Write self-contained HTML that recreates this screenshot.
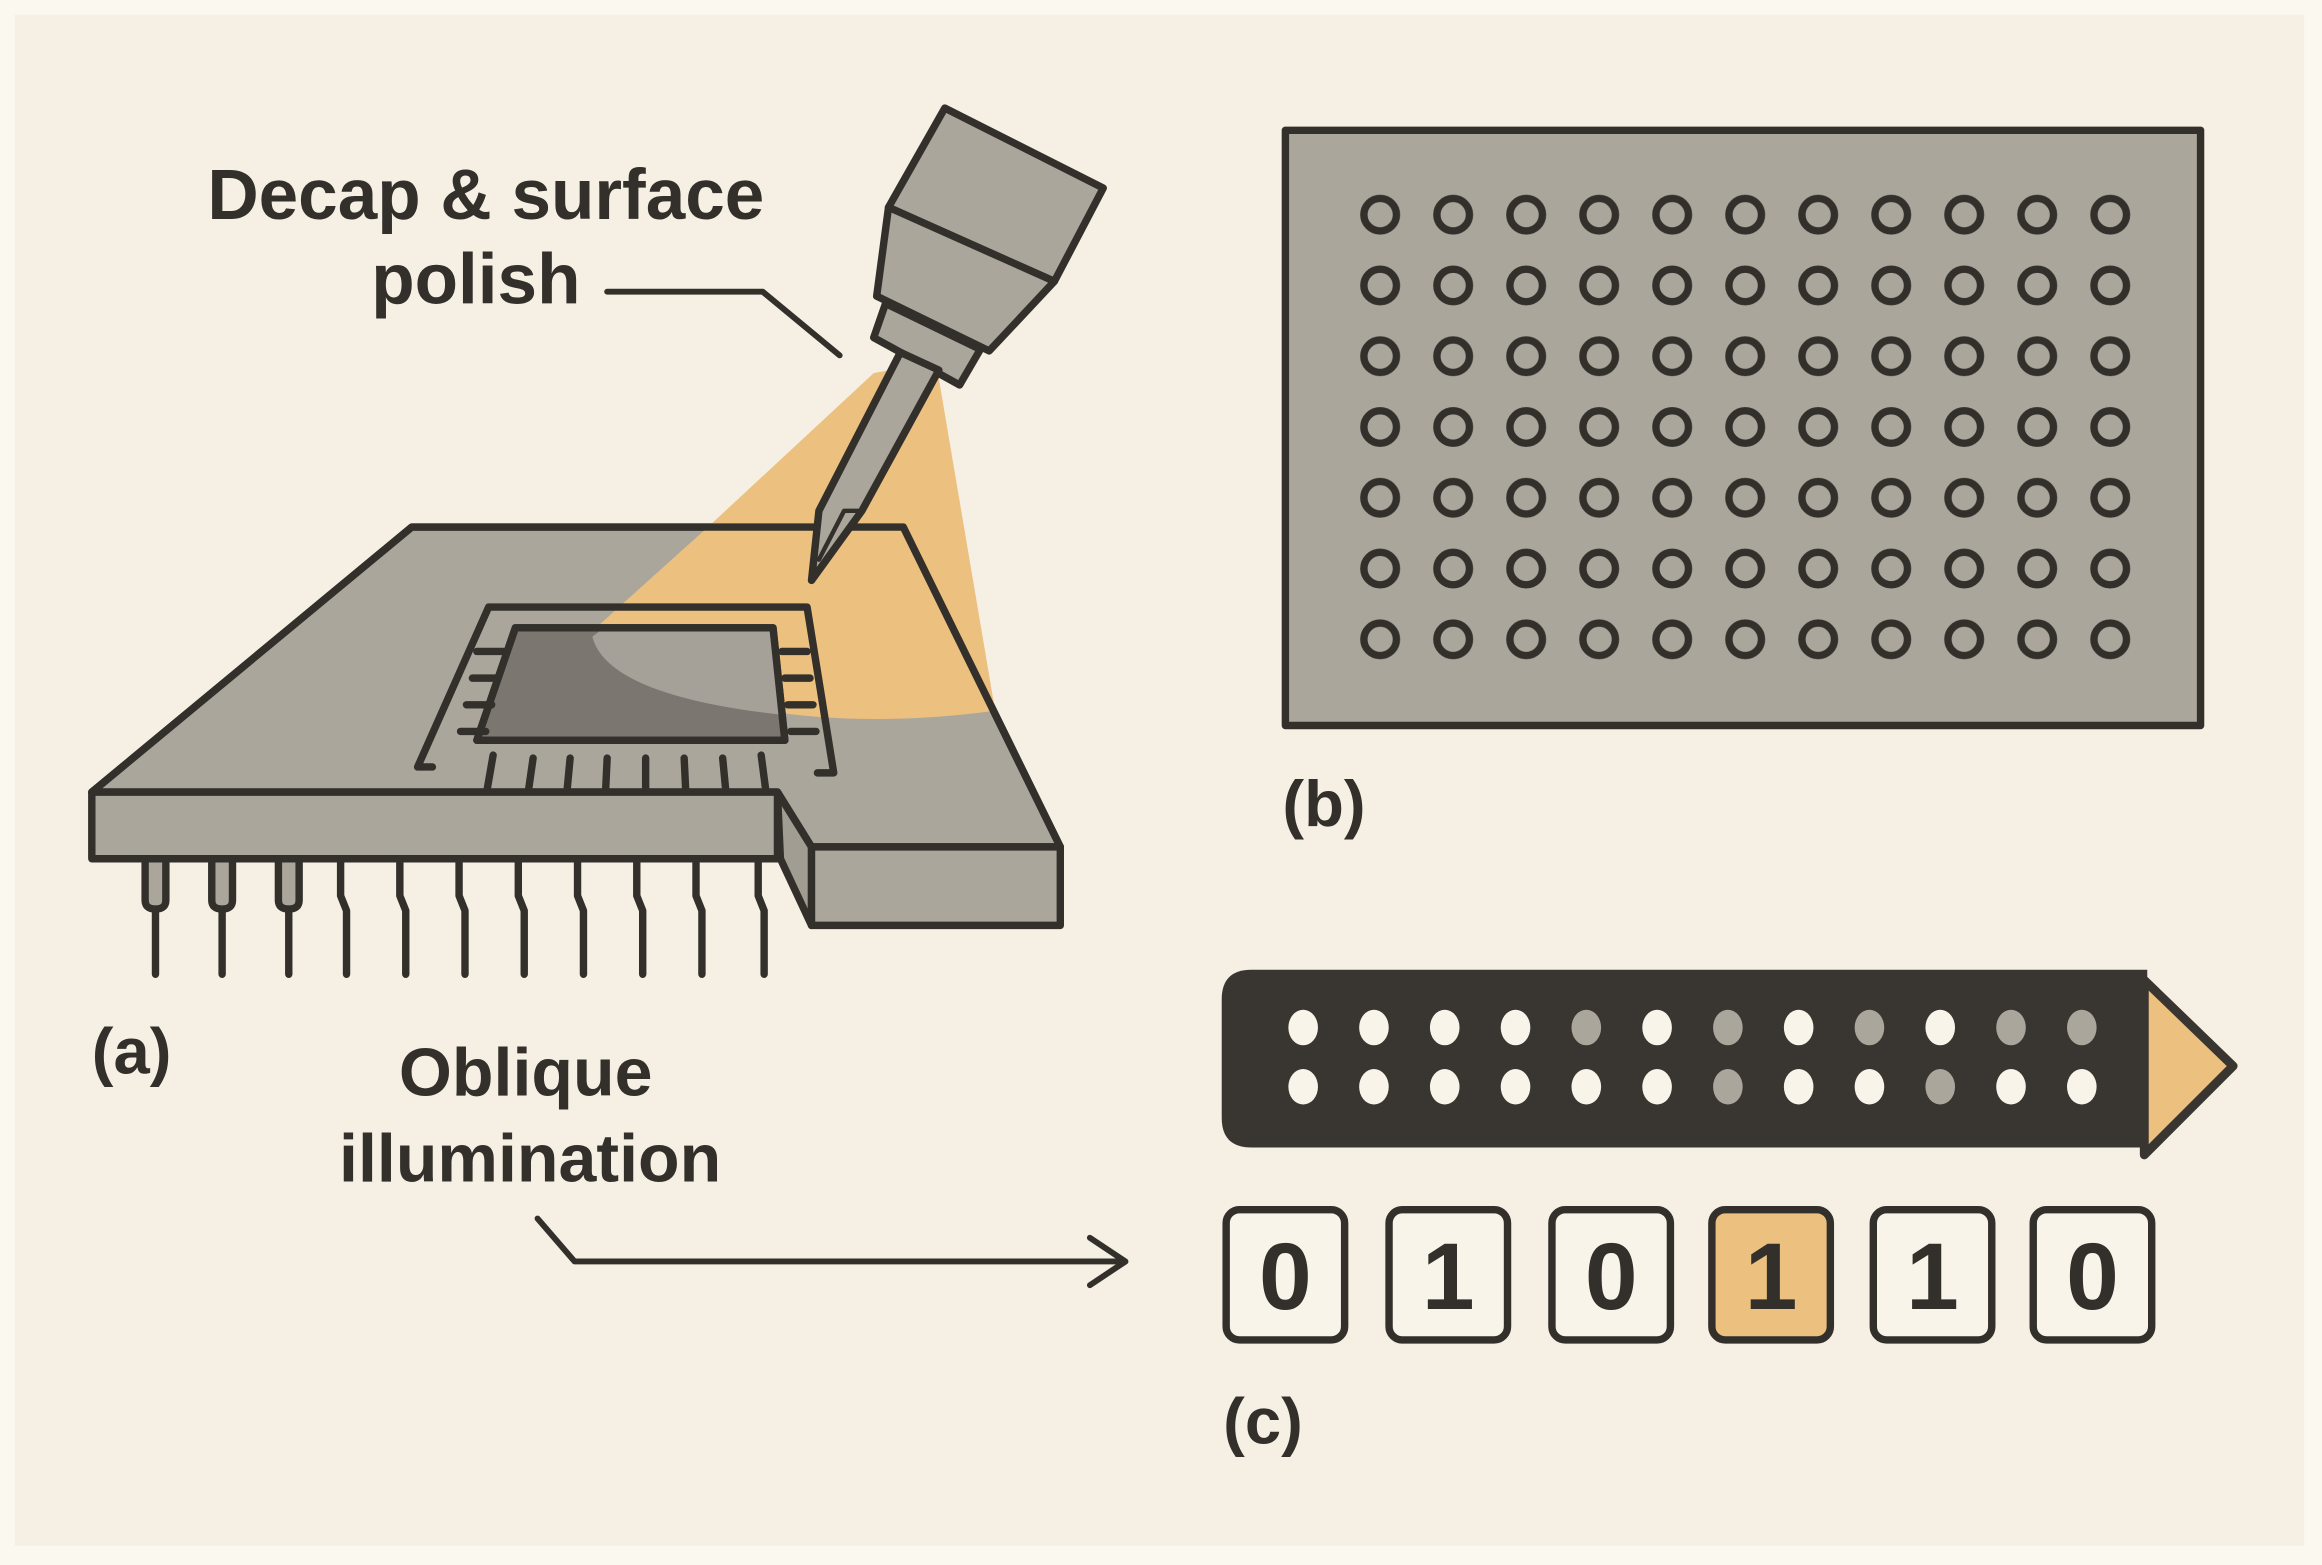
<!DOCTYPE html>
<html><head><meta charset="utf-8"><style>
html,body{margin:0;padding:0;background:#fbf8f0}
svg{display:block}
text{font-family:"Liberation Sans","DejaVu Sans",sans-serif;fill:#33302c}
</style></head><body>
<svg width="2322" height="1565" viewBox="0 0 1568 1057" preserveAspectRatio="none" xmlns="http://www.w3.org/2000/svg">
<defs>
<pattern id="hp" patternUnits="userSpaceOnUse" x="907.35" y="121.1" width="49.3" height="47.8">
<circle cx="24.65" cy="23.9" r="11" fill="#aaa69c" stroke="#33302c" stroke-width="5"/>
</pattern>
</defs>
<rect x="0" y="0" width="1568" height="1057" fill="#fbf8f0"/>
<rect x="10" y="10" width="1546" height="1034" fill="#f5f0e3"/>
<g stroke="#33302c" stroke-width="5" stroke-linejoin="round" stroke-linecap="round">
<g fill="#aaa69c">
<path d="M98 580 V608 Q98 614 105 614 Q112 614 112 608 V580"/>
<path d="M143 580 V608 Q143 614 150 614 Q157 614 157 608 V580"/>
<path d="M188 580 V608 Q188 614 195 614 Q202 614 202 608 V580" />
</g>
<g fill="none">
<path d="M105 614 V658"/><path d="M150 614 V658"/><path d="M195 614 V658"/>
<path d="M230 580 V605 L234 615 V658"/><path d="M270 580 V605 L274 615 V658"/>
<path d="M310 580 V605 L314 615 V658"/><path d="M350 580 V605 L354 615 V658"/>
<path d="M390 580 V605 L394 615 V658"/><path d="M430 580 V605 L434 615 V658"/>
<path d="M470 580 V605 L474 615 V658"/><path d="M512 580 V605 L516 615 V658"/>
</g>
<polygon points="62,535 278,356 610,356 716,572 548,572 525,535" fill="#aaa69c"/>
</g>
<path d="M590 252 L632 244 L672 480 Q560 495 470 470 Q410 450 398 428 L478 356 L590 252 Z" fill="#ecc07f"/>
<g stroke="#33302c" stroke-width="5" stroke-linejoin="round" stroke-linecap="round">
<polygon points="62,535 278,356 610,356 716,572 548,572 525,535" fill="none"/>
<rect x="62" y="535" width="463" height="45" fill="#aaa69c"/>
<polygon points="525,535 548,572 548,625 527,580" fill="#a19d93"/>
<rect x="548" y="572" width="168" height="53" fill="#aaa69c"/>
<path d="M292 518 H282 L330 410 H545 L563 522 H552" fill="none"/>
<polygon points="348,424 522,424 530,500 322,500" fill="#7c7670"/>
<path d="M400 430 Q410 470 530 483 L522 424 H408 Z" fill="#a5a198" stroke="none"/>
<polygon points="348,424 522,424 530,500 322,500" fill="none"/>
<g fill="none">
<path d="M322 440 H340"/><path d="M319 458 H336"/><path d="M315 476 H332"/><path d="M311 494 H328"/>
<path d="M528 440 H545"/><path d="M530 458 H547"/><path d="M532 476 H549"/><path d="M534 494 H551"/>
<path d="M333 510 L329 533"/><path d="M360 512 L357 533"/><path d="M385 512 L383 533"/><path d="M410 512 L409 533"/>
<path d="M436 512 L436 533"/><path d="M462 512 L463 533"/><path d="M488 512 L490 533"/><path d="M514 510 L517 533"/>
</g>
<polygon points="638,73 745,127 712,190 668,237 592,200 600,140" fill="#aaa69c"/>
<path d="M600 140 L712 190" fill="none"/>
<polygon points="598,205 662,236 648,260 590,228" fill="#aaa69c"/>
<polygon points="608,238 634,250 582,345 548,392 553,345" fill="#aaa69c"/>
<path d="M582 345 L570 345 L553 378" fill="none" stroke-width="3"/>
<path d="M410 197 H515 L567 240" fill="none" stroke-width="4"/>
<path d="M363 823 L388 852 H758" fill="none" stroke-width="4"/>
<path d="M736 836 L760 852 L736 868" fill="none" stroke-width="4"/>
<rect x="868" y="88" width="618" height="402" fill="#aaa69c"/>
</g>
<rect x="907.35" y="121.1" width="542.3" height="334.6" fill="url(#hp)"/>
<path d="M845 655 H1450 V775 H845 Q825 775 825 755 V675 Q825 655 845 655 Z" fill="#393632"/>
<polygon points="1448,662 1508,720 1448,780" fill="#ecc07f" stroke="#393632" stroke-width="6" stroke-linejoin="round"/>
<g fill="#f8f4ea">
<ellipse cx="880" cy="694" rx="10" ry="12"/><ellipse cx="927.8" cy="694" rx="10" ry="12"/><ellipse cx="975.6" cy="694" rx="10" ry="12"/><ellipse cx="1023.4" cy="694" rx="10" ry="12"/><ellipse cx="1071.2" cy="694" rx="10" ry="12" fill="#aaa69c"/><ellipse cx="1119" cy="694" rx="10" ry="12"/><ellipse cx="1166.8" cy="694" rx="10" ry="12" fill="#aaa69c"/><ellipse cx="1214.6" cy="694" rx="10" ry="12"/><ellipse cx="1262.4" cy="694" rx="10" ry="12" fill="#aaa69c"/><ellipse cx="1310.2" cy="694" rx="10" ry="12"/><ellipse cx="1358" cy="694" rx="10" ry="12" fill="#aaa69c"/><ellipse cx="1405.8" cy="694" rx="10" ry="12" fill="#aaa69c"/>
<ellipse cx="880" cy="734" rx="10" ry="12"/><ellipse cx="927.8" cy="734" rx="10" ry="12"/><ellipse cx="975.6" cy="734" rx="10" ry="12"/><ellipse cx="1023.4" cy="734" rx="10" ry="12"/><ellipse cx="1071.2" cy="734" rx="10" ry="12"/><ellipse cx="1119" cy="734" rx="10" ry="12"/><ellipse cx="1166.8" cy="734" rx="10" ry="12" fill="#aaa69c"/><ellipse cx="1214.6" cy="734" rx="10" ry="12"/><ellipse cx="1262.4" cy="734" rx="10" ry="12"/><ellipse cx="1310.2" cy="734" rx="10" ry="12" fill="#aaa69c"/><ellipse cx="1358" cy="734" rx="10" ry="12"/><ellipse cx="1405.8" cy="734" rx="10" ry="12"/>
</g>
<g stroke="#33302c" stroke-width="5">
<rect x="828" y="817" width="80" height="88" rx="9" fill="#f8f4ea"/>
<rect x="938" y="817" width="80" height="88" rx="9" fill="#f8f4ea"/>
<rect x="1048" y="817" width="80" height="88" rx="9" fill="#f8f4ea"/>
<rect x="1156" y="817" width="80" height="88" rx="9" fill="#ecc07f"/>
<rect x="1265" y="817" width="80" height="88" rx="9" fill="#f8f4ea"/>
<rect x="1373" y="817" width="80" height="88" rx="9" fill="#f8f4ea"/>
</g>
<g font-size="64" font-weight="bold" text-anchor="middle">
<text x="868" y="884">0</text><text x="978" y="884">1</text><text x="1088" y="884">0</text>
<text x="1196" y="884">1</text><text x="1305" y="884">1</text><text x="1413" y="884">0</text>
</g>
<g font-weight="bold">
<text x="140" y="148" font-size="48">Decap &amp; surface</text>
<text x="392" y="205" font-size="48" text-anchor="end">polish</text>
<text x="62" y="725" font-size="44">(a)</text>
<text x="355" y="740" font-size="46" text-anchor="middle">Oblique</text>
<text x="358" y="798" font-size="46" text-anchor="middle">illumination</text>
<text x="866" y="558" font-size="44">(b)</text>
<text x="826" y="975" font-size="44">(c)</text>
</g>
</svg>
</body></html>
